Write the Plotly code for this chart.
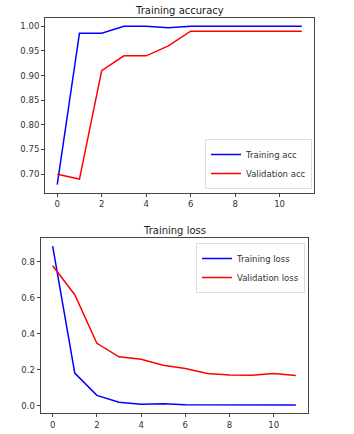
import plotly.graph_objects as go

epochs = list(range(12))
train_acc = [0.679, 0.986, 0.986, 1.0, 1.0, 0.997, 1.0, 1.0, 1.0, 1.0, 1.0, 1.0]
val_acc = [0.700, 0.690, 0.910, 0.940, 0.940, 0.960, 0.990, 0.990, 0.990, 0.990, 0.990, 0.990]
train_loss = [0.887, 0.182, 0.058, 0.020, 0.009, 0.011, 0.006, 0.006, 0.003, 0.003, 0.004, 0.005]
val_loss = [0.778, 0.617, 0.347, 0.272, 0.259, 0.225, 0.207, 0.179, 0.171, 0.170, 0.179, 0.168]

W, H = 354, 434
def fx(px): return px / W
def fy(py): return (H - py) / H

fig = go.Figure()
fig.add_trace(go.Scatter(x=epochs, y=train_acc, mode="lines", name="Training acc",
                         line=dict(color="#0000ff", width=1.5), xaxis="x", yaxis="y", legend="legend"))
fig.add_trace(go.Scatter(x=epochs, y=val_acc, mode="lines", name="Validation acc",
                         line=dict(color="#ff0000", width=1.5), xaxis="x", yaxis="y", legend="legend"))
fig.add_trace(go.Scatter(x=epochs, y=train_loss, mode="lines", name="Training loss",
                         line=dict(color="#0000ff", width=1.5), xaxis="x2", yaxis="y2", legend="legend2"))
fig.add_trace(go.Scatter(x=epochs, y=val_loss, mode="lines", name="Validation loss",
                         line=dict(color="#ff0000", width=1.5), xaxis="x2", yaxis="y2", legend="legend2"))

tickfont = dict(family="DejaVu Sans", size=8.5, color="#333333")
axcommon = dict(showgrid=False, zeroline=False, showline=True, mirror=True, linecolor="#444444",
                linewidth=1, ticks="outside", ticklen=3, tickcolor="#444444", tickwidth=1,
                tickfont=tickfont)
legfont = dict(family="DejaVu Sans", size=8.5, color="#333333")

fig.update_layout(
    width=W, height=H, margin=dict(l=0, r=0, t=0, b=0),
    paper_bgcolor="white", plot_bgcolor="white", font=tickfont,
    xaxis=dict(domain=[fx(45), fx(314)], anchor="y", range=[-0.55, 11.55],
               tickvals=[0, 2, 4, 6, 8, 10], **axcommon),
    yaxis=dict(domain=[fy(193), fy(18.3)], anchor="x", range=[0.6618, 1.0161],
               tickvals=[0.70, 0.75, 0.80, 0.85, 0.90, 0.95, 1.00], tickformat=".2f", **axcommon),
    xaxis2=dict(domain=[fx(40.5), fx(308)], anchor="y2", range=[-0.55, 11.55],
                tickvals=[0, 2, 4, 6, 8, 10], **axcommon),
    yaxis2=dict(domain=[fy(413.3), fy(238.3)], anchor="x2", range=[-0.0415, 0.9305],
                tickvals=[0.0, 0.2, 0.4, 0.6, 0.8], tickformat=".1f", **axcommon),
    legend=dict(x=fx(312), y=fy(189), xanchor="right", yanchor="bottom",
                bgcolor="rgba(255,255,255,0.8)", bordercolor="#dddddd", borderwidth=1,
                font=legfont, tracegroupgap=0, itemwidth=30),
    legend2=dict(x=fx(305), y=fy(243), xanchor="right", yanchor="top",
                 bgcolor="rgba(255,255,255,0.8)", bordercolor="#dddddd", borderwidth=1,
                 font=legfont, tracegroupgap=0, itemwidth=30),
    annotations=[
        dict(text="Training accuracy", x=(fx(45) + fx(314)) / 2, y=fy(11), xref="paper", yref="paper",
             yanchor="middle", showarrow=False, font=dict(family="DejaVu Sans", size=10, color="#222222")),
        dict(text="Training loss", x=(fx(40.5) + fx(308)) / 2, y=fy(230.5), xref="paper", yref="paper",
             yanchor="middle", showarrow=False, font=dict(family="DejaVu Sans", size=10, color="#222222")),
    ],
)

fig.write_html("out.html")
